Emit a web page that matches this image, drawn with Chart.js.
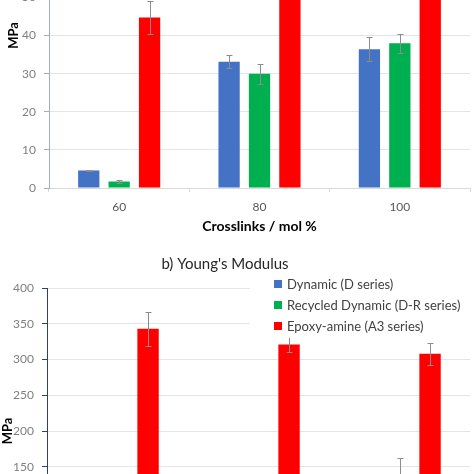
<!DOCTYPE html>
<html lang="en">
<head>
  <meta charset="UTF-8">
  <title>Tensile strength and Young's modulus</title>
  <script src="https://cdn.jsdelivr.net/npm/chart.js"></script>
  <style>
    body { margin: 0; width: 474px; height: 474px; overflow: hidden; position: relative; background: #fff; }
    #topBox { position: absolute; left: 0; top: -135px; }
    #botBox { position: absolute; left: -20px; top: 245px; }
  </style>
</head>
<body>
  <div id="topBox"><canvas id="strength" width="474" height="370"></canvas></div>
  <div id="botBox"><canvas id="modulus" width="494" height="380"></canvas></div>

  <script>
    const crosslinks = ['60', '80', '100'];
    const seriesNames = ['Dynamic (D series)', 'Recycled Dynamic (D-R series)', 'Epoxy-amine (A3 series)'];
    const seriesColors = ['#4472C4', '#00B050', '#FF0000'];

    // a) strength, MPa
    const strDynamic = [4.6, 33.1, 36.4];
    const strRecycled = [1.7, 30.0, 38.0];
    const strEpoxy = [44.7, 63, 68];
    const strDynamicErr = [0.2, 1.7, 3.1];
    const strRecycledErr = [0.3, 2.6, 2.5];
    const strEpoxyErr = [4.3, 3, 4];
    const strTicks = [0, 10, 20, 30, 40, 50, 60, 70, 80];

    // b) Young's modulus, MPa
    const modDynamic = [5, 95, 125];
    const modRecycled = [3, 90, 135];
    const modEpoxy = [343, 321, 308];
    const modDynamicErr = [1, 8, 10];
    const modRecycledErr = [1, 8, 27];
    const modEpoxyErr = [24, 11, 15];
    const modTicks = [0, 50, 100, 150, 200, 250, 300, 350, 400];

    const FONT = 'Lato, "Open Sans", sans-serif';

    const errorBars = {
      id: 'errorBars',
      afterDatasetsDraw(chart) {
        const ctx = chart.ctx;
        const y = chart.scales.y;
        ctx.save();
        ctx.strokeStyle = '#8c8c8c';
        ctx.lineWidth = 1;
        chart.data.datasets.forEach((ds, i) => {
          chart.getDatasetMeta(i).data.forEach((bar, j) => {
            const v = ds.data[j], e = ds.errors[j];
            const x = Math.round(bar.x) + 0.5;
            const t = Math.round(y.getPixelForValue(v + e)) + 0.5;
            const b = Math.round(y.getPixelForValue(v - e)) + 0.5;
            ctx.beginPath();
            ctx.moveTo(x, t); ctx.lineTo(x, b);
            ctx.moveTo(x - 3, t); ctx.lineTo(x + 3, t);
            ctx.moveTo(x - 3, b); ctx.lineTo(x + 3, b);
            ctx.stroke();
          });
        });
        ctx.restore();
      }
    };

    const boxLegend = {
      id: 'boxLegend',
      afterDraw(chart) {
        const ctx = chart.ctx;
        const top = chart.chartArea.top;
        ctx.save();
        ctx.fillStyle = '#fff';
        ctx.fillRect(270, top - 16, 224, 66);
        ctx.font = '13px ' + FONT;
        ctx.textBaseline = 'middle';
        chart.data.datasets.forEach((ds, i) => {
          const cy = top - 4 + i * 21;
          ctx.fillStyle = ds.backgroundColor;
          ctx.fillRect(294, cy - 4, 8, 8);
          ctx.fillStyle = '#404040';
          ctx.fillText(ds.label, 307, cy + 1);
        });
        ctx.restore();
      }
    };

    function makeDatasets(values, errors) {
      return values.map((vals, i) => ({
        label: seriesNames[i],
        data: vals,
        errors: errors[i],
        backgroundColor: seriesColors[i],
        categoryPercentage: 0.65,
        barPercentage: 0.7
      }));
    }

    function xScale(tickSize, height) {
      return {
        grid: { drawOnChartArea: false, tickLength: 4, color: '#d9d9d9', offset: true },
        border: { color: '#d9d9d9' },
        ticks: { color: '#595959', font: { family: FONT, size: tickSize }, padding: 8 },
        title: {
          display: true, text: 'Crosslinks / mol %', color: '#000',
          font: { family: FONT, size: 14, weight: 'bold' }, padding: { top: 4, bottom: 0 }
        },
        afterFit: s => { s.height = height; }
      };
    }

    function yScale(max, step, tickSize, axisColor, width, tickColor, titlePad) {
      return {
        min: 0, max: max,
        ticks: { stepSize: step, color: tickColor, font: { family: FONT, size: tickSize }, padding: 8 },
        grid: { color: '#e4e4e4', tickLength: 5, tickColor: axisColor },
        border: { color: axisColor },
        title: {
          display: true, text: 'MPa', color: '#000',
          font: { family: FONT, size: 13, weight: 'bold' }, padding: { top: titlePad, bottom: 0 }
        },
        afterFit: s => { s.width = width; }
      };
    }

    new Chart(document.getElementById('strength'), {
      type: 'bar',
      data: {
        labels: crosslinks,
        datasets: makeDatasets([strDynamic, strRecycled, strEpoxy], [strDynamicErr, strRecycledErr, strEpoxyErr])
      },
      options: {
        responsive: false,
        animation: false,
        devicePixelRatio: 1,
        layout: { padding: { top: 18, right: 4, left: 0, bottom: 0 } },
        plugins: { legend: { display: false }, tooltip: { enabled: false } },
        scales: {
          x: xScale(12, 47),
          y: yScale(strTicks[strTicks.length - 1], strTicks[1] - strTicks[0], 12, '#a4adc2', 49, '#7f7f7f', 6)
        }
      },
      plugins: [errorBars]
    });

    const modChart = {
      type: 'bar',
      data: {
        labels: crosslinks,
        datasets: makeDatasets([modDynamic, modRecycled, modEpoxy], [modDynamicErr, modRecycledErr, modEpoxyErr])
      },
      options: {
        responsive: false,
        animation: false,
        devicePixelRatio: 1,
        layout: { padding: { top: 0, right: 4, left: 0, bottom: 0 } },
        plugins: {
          legend: { display: false },
          tooltip: { enabled: false },
          title: {
            display: true, text: "b) Young's Modulus", color: '#262626',
            font: { family: FONT, size: 15, weight: 'normal' }, padding: { top: 10, bottom: 15 }
          }
        },
        scales: {
          x: xScale(12, 51),
          y: yScale(modTicks[modTicks.length - 1], modTicks[1] - modTicks[0], 12, '#2f3f73', 67, '#7f7f7f', 20)
        }
      },
      plugins: [errorBars, boxLegend]
    };
    new Chart(document.getElementById('modulus'), modChart);
  </script>
</body>
</html>
